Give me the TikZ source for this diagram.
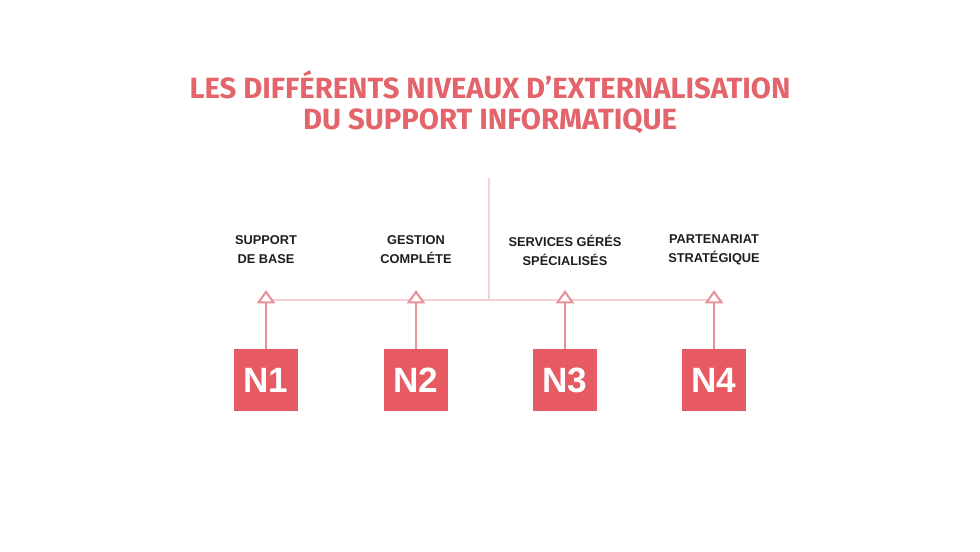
\documentclass[tikz,border=0pt]{standalone}
\usepackage{fontspec}
\setmainfont{Liberation Sans}
\newfontfamily\titlefont{Fira Sans}
\usetikzlibrary{arrows.meta}
\definecolor{titlered}{HTML}{E3646B}
\definecolor{boxred}{HTML}{E85A62}
\definecolor{stempink}{HTML}{E8929A}
\definecolor{linepink}{HTML}{F6D0D3}
\definecolor{labelgray}{HTML}{1E1E1E}
\begin{document}
\begin{tikzpicture}[x=0.025cm, y=-0.025cm, >=stealth,
		levelbox/.style={fill=boxred, text=white, minimum width=45.5pt, minimum height=43.5pt, inner sep=0pt, font=\fontsize{25}{25}\selectfont\bfseries},
		levellabel/.style={text=labelgray, align=center, font=\fontsize{9.1}{13.6}\selectfont\bfseries},
		stem/.style={draw=stempink, line width=1.5pt, -{Triangle[open, fill=white, width=13pt, length=9.5pt]}}]
			\useasboundingbox (0,0) rectangle (980,552);
			\node[text=titlered, align=center, font=\titlefont\fontsize{20.8}{22}\selectfont\bfseries] (title) at (490,102) {LES DIFFÉRENTS NIVEAUX D’EXTERNALISATION\\DU SUPPORT INFORMATIQUE};
			\path (489,178) coordinate (V) (489,300) coordinate (H) (266,300) coordinate (L) (722,300) coordinate (R);
			\draw[linepink, line width=1.3pt] (V)--(H);
			\draw[linepink, line width=1.3pt] (L)--(R);
			\foreach \x/\n/\t in {266/1/{SUPPORT\\DE BASE}, 416/2/{GESTION\\COMPLÉTE}, 565/3/{SERVICES GÉRÉS\\SPÉCIALISÉS}, 714/4/{PARTENARIAT\\STRATÉGIQUE}}{
			\node[levelbox] (n\n) at (\x,380) {N\n};
			\node[levellabel] (l\n) at (\x,250) {\t};
			\coordinate (t\n) at (\x,290);
			\draw[stem] (n\n.north)--(t\n);
			}
		\end{tikzpicture}
\end{document}
